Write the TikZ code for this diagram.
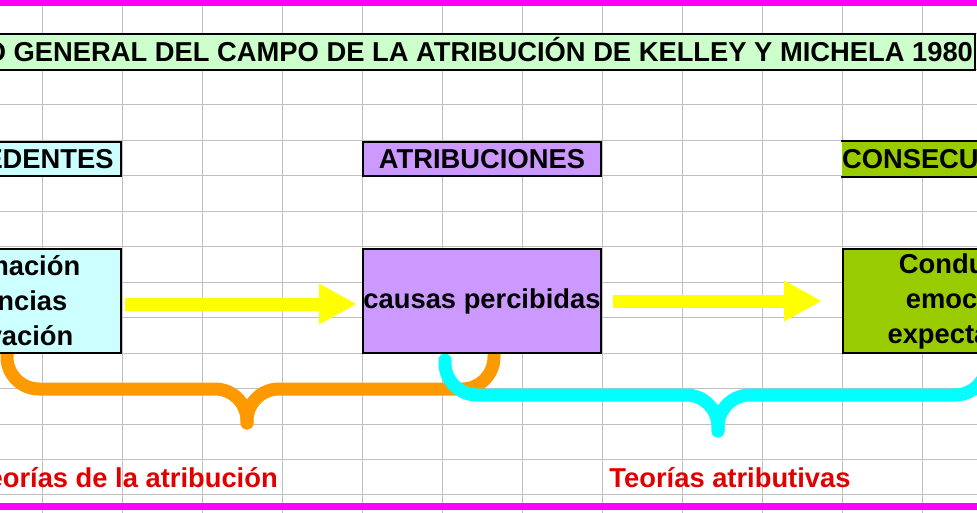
\documentclass[tikz,border=0pt]{standalone}
\usepackage{fontspec}
\setmainfont{Liberation Sans}
\usetikzlibrary{arrows.meta, positioning}
\newcommand{\cellfont}{\fontsize{20.5pt}{26.25pt}\selectfont\bfseries}
\definecolor{titlegreen}{RGB}{204,255,204}
\definecolor{antecyan}{RGB}{204,255,255}
\definecolor{atripurple}{RGB}{204,153,255}
\definecolor{consgreen}{RGB}{153,204,0}
\definecolor{bracecyan}{RGB}{0,255,255}
\definecolor{braceorange}{RGB}{255,153,0}
\definecolor{arrowyellow}{RGB}{255,255,0}
\definecolor{barmagenta}{RGB}{255,0,255}
\definecolor{labelred}{RGB}{225,0,0}
\definecolor{gridgray}{RGB}{192,192,192}
\tikzstyle{gridline} = [
  draw=gridgray,
  line width=0.75pt
]
\tikzstyle{titlebox} = [
  rectangle,
  draw=black,
  line width=1.5pt,
  fill=titlegreen,
  minimum height=27pt,
  inner xsep=1.5pt,
  inner ysep=0,
  text height=14.6pt,
  text depth=0pt,
  font=\cellfont
]
\tikzstyle{headbox} = [
  rectangle,
  minimum width=178.5pt,
  minimum height=25.5pt,
  text centered,
  inner sep=0,
  draw=black,
  line width=1.5pt,
  font=\cellfont
]
\tikzstyle{mainbox} = [
  rectangle,
  minimum width=178.5pt,
  minimum height=78pt,
  align=center,
  inner sep=0,
  draw=black,
  line width=1.5pt,
  font=\cellfont
]
\tikzstyle{arrow} = [
  line width=9.75pt,
  arrowyellow,
  -{Triangle[length=28.5pt, width=28.5pt]}
]
\tikzstyle{brace} = [
  line width=9.75pt,
  line cap=round,
  rounded corners=24pt
]
\tikzstyle{theory} = [
  font=\cellfont,
  text=labelred,
  inner sep=0
]
\begin{document}
\begin{tikzpicture}[x=0.75pt, y=-0.75pt, node distance=53.25pt and 180pt]

    \useasboundingbox (0,0) rectangle (977,513);
    \clip (0,0) rectangle (977,513);

    % sheet grid
    \foreach \gx in {42,122,...,922}
      \draw [gridline] (\gx,0) -- (\gx,513);
    \foreach \k in {0,...,13}
      \draw [gridline] (0,{34+35.46*\k}) -- (977,{34+35.46*\k});

    \fill [barmagenta] (0,0) rectangle (977,6);
    \fill [barmagenta] (0,503) rectangle (977,510);

    % braces
    \draw [brace, braceorange] (7,340) -- (7,389) -- (247,389) -- (247,423);
    \draw [brace, braceorange] (494,340) -- (494,389) -- (247,389) -- (247,423);
    \draw [brace, bracecyan] (445,360) -- (445,395) -- (718,395) -- (718,431);
    \draw [brace, bracecyan] (987,340) -- (987,395) -- (718,395) -- (718,431);

    \node (title) [titlebox, anchor=east] at (976,52) {MODELO GENERAL DEL CAMPO DE LA ATRIBUCIÓN DE KELLEY Y MICHELA 1980};
    \node (ante) [mainbox, fill=antecyan] at (2,301) {Información\\Creencias\\Motivación};
    \node (atri) [mainbox, fill=atripurple, right=of ante] {causas percibidas};
    \node (cons) [mainbox, fill=consgreen, right=of atri] {Conducta\\emoción\\expectativa};
    \node (antehead) [headbox, fill=antecyan, above=of ante] {ANTECEDENTES};
    \node (atrihead) [headbox, fill=atripurple, above=of atri] {ATRIBUCIONES};
    \node (conshead) [headbox, fill=consgreen, draw=none, above=of cons] {CONSECUENCIAS};
    \draw [line width=1.5pt] (conshead.north west) -- (conshead.north east)
      (conshead.south west) -- (conshead.south east);

    \draw [arrow] ([xshift=2.25pt, yshift=-2.25pt]ante.east) -- ([xshift=-3.75pt, yshift=-2.25pt]atri.west);
    \draw [arrow] ([xshift=8.25pt]atri.east) -- ([xshift=-15pt]cons.west);

    \node (delaatrib) [theory, anchor=east] at (278,478) {Teorías de la atribución};
    \node (atributivas) [theory] at (730,478) {Teorías atributivas};

  \end{tikzpicture}
\end{document}
